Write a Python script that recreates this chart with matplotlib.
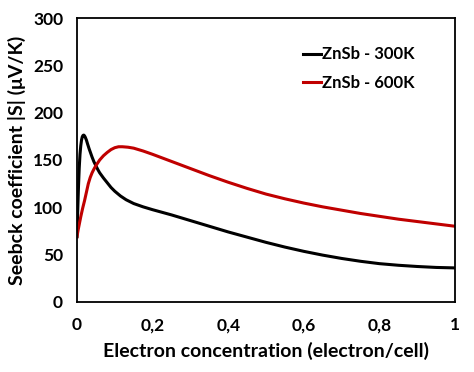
import matplotlib
matplotlib.use("Agg")
import matplotlib.pyplot as plt

# ZnSb Seebeck coefficient vs electron concentration
x_300 = [0, 0.002, 0.004, 0.006, 0.008, 0.010, 0.012, 0.014, 0.016, 0.018, 0.020, 0.022, 0.025,
         0.028, 0.032, 0.036, 0.04, 0.045, 0.05, 0.055, 0.06, 0.07, 0.08, 0.09, 0.10, 0.115,
         0.13, 0.15, 0.175, 0.2, 0.25, 0.3, 0.35, 0.4, 0.45, 0.5, 0.55, 0.6, 0.65, 0.7, 0.75,
         0.8, 0.85, 0.9, 0.95, 1.0]
s_300 = [69, 97, 122, 142, 156, 165, 171, 174.5, 176, 176.3, 175.5, 174, 171,
         167, 162, 157.5, 153, 148, 144, 140, 136.5, 131, 126, 121, 117, 112,
         108, 104, 100.5, 97.5, 92, 86, 80, 74, 68.5, 63, 58, 53.5, 49.5, 46, 43,
         40.5, 38.8, 37.5, 36.5, 36]

x_600 = [0, 0.003, 0.006, 0.01, 0.015, 0.02, 0.025, 0.03, 0.035, 0.04, 0.045, 0.05, 0.06,
         0.07, 0.08, 0.09, 0.1, 0.11, 0.12, 0.135, 0.15, 0.175, 0.2, 0.25, 0.3, 0.35, 0.4,
         0.45, 0.5, 0.55, 0.6, 0.65, 0.7, 0.75, 0.8, 0.85, 0.9, 0.95, 1.0]
s_600 = [69, 76, 82, 90, 99, 107, 116, 125, 131.5, 136.5, 140.5, 144, 150,
         154.5, 158, 161, 163, 164, 164, 163.5, 162.5, 159.5, 156, 148.5, 141, 133.5, 126.5,
         120, 114, 109, 104.5, 100.5, 97, 93.5, 90.5, 87.5, 85, 82.5, 80]

xticks = [0, 0.2, 0.4, 0.6, 0.8, 1.0]
xtick_labels = ["0", "0,2", "0,4", "0,6", "0,8", "1"]
yticks = [0, 50, 100, 150, 200, 250, 300]

plt.rcParams['font.family'] = ['Lato', 'DejaVu Sans']
plt.rcParams['font.weight'] = 'bold'

fig = plt.figure(figsize=(4.74, 3.72), dpi=100)
ax = fig.add_axes([0.1624, 0.1882, 0.7976, 0.7634])

ax.plot(x_300, s_300, color='black', lw=2.2, label='ZnSb - 300K')
ax.plot(x_600, s_600, color='#C00000', lw=2.2, label='ZnSb - 600K')

ax.set_xlim(0, 1)
ax.set_ylim(0, 300)
ax.set_xticks(xticks)
ax.set_xticklabels(xtick_labels)
ax.set_yticks(yticks)
ax.tick_params(axis='both', length=0, labelsize=12.5)
ax.tick_params(axis='x', pad=11)
ax.tick_params(axis='y', pad=10)
for sp in ax.spines.values():
    sp.set_linewidth(1.3)

ax.set_xlabel('Electron concentration (electron/cell)', fontsize=14, fontweight='bold', labelpad=6)
ax.set_ylabel('Seebck coefficient |S| (μV/K)', fontsize=14, fontweight='bold', labelpad=5)

ax.legend(loc='upper left', bbox_to_anchor=(0.557, 0.953), frameon=False, fontsize=12,
          handlelength=1.1, handletextpad=0.05, labelspacing=0.75)

fig.savefig('out.png', dpi=100)
